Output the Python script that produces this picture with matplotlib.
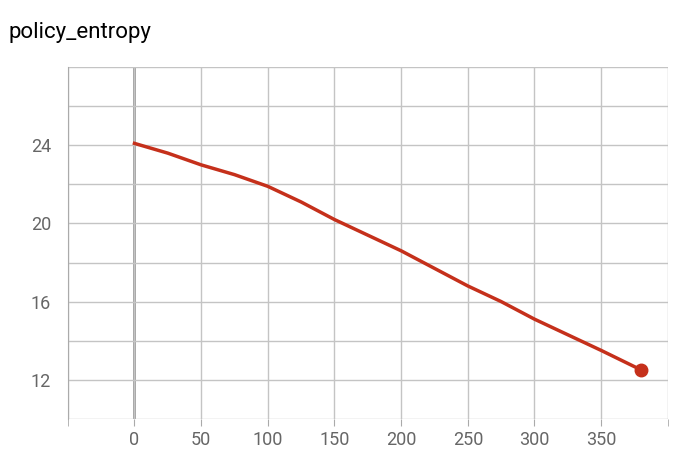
import matplotlib
matplotlib.use("Agg")
import matplotlib.pyplot as plt
import numpy as np

plt.rcParams['font.family'] = ['Roboto', 'DejaVu Sans']

steps = [0, 25, 50, 75, 100, 125, 150, 175, 200, 225, 250, 275, 300, 325, 350, 365, 380]
entropy = [24.1, 23.6, 23.0, 22.5, 21.9, 21.1, 20.2, 19.4, 18.6, 17.7, 16.8, 16.0, 15.1, 14.3, 13.5, 13.0, 12.5]
xticks = [0, 50, 100, 150, 200, 250, 300, 350]
yticks = [12, 16, 20, 24]

fig = plt.figure(figsize=(6.78, 4.70), dpi=100)
ax = fig.add_axes([0.1, 0.109, 0.885, 0.748])
ax.set_xlim(-50, 400)
ax.set_ylim(10, 28)
ax.set_xticks(np.arange(-50, 401, 50), minor=True)
ax.set_yticks(np.arange(10, 28.1, 2), minor=True)
ax.set_xticks(xticks)
ax.set_yticks(yticks)
ax.grid(True, which='both', color='#c4c4c4', linewidth=1)
for s in ['top', 'right', 'bottom']:
    ax.spines[s].set_visible(False)
ax.spines['left'].set_color('#aaaaaa')
ax.axvline(0, color='#999999', linewidth=2, zorder=1)
ax.tick_params(axis='both', which='both', colors='#aaaaaa', labelcolor='#666666', labelsize=13, length=5)
ax.tick_params(axis='y', which='both', length=0, pad=12)
ax.plot(steps, entropy, color='#c5301b', linewidth=2.5, zorder=3)
ax.plot(steps[-1], entropy[-1], 'o', color='#c5301b', markersize=9, zorder=4)
fig.text(0.013, 0.93, 'policy_entropy', fontsize=16, color='black', va='center')
fig.savefig('out.png', dpi=100)
